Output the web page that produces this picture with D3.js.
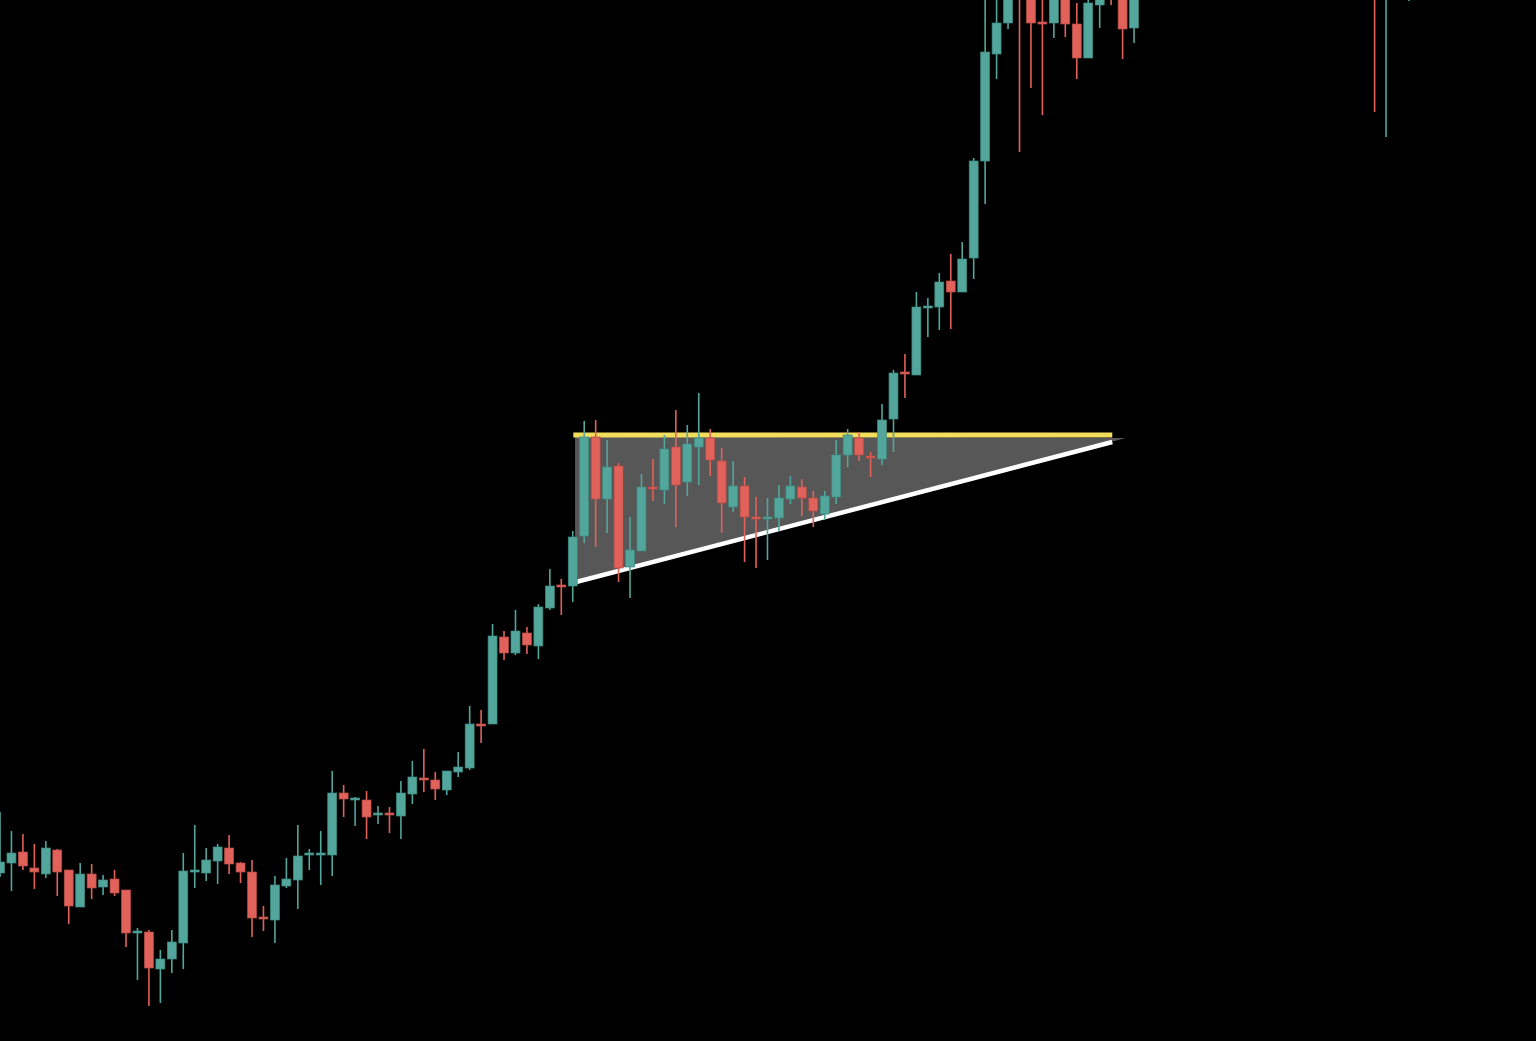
<!DOCTYPE html>
<html>
<head>
<meta charset="utf-8">
<script src="https://cdn.jsdelivr.net/npm/d3@7"></script>
<style>
html,body{margin:0;padding:0;background:#000;overflow:hidden;}
svg{display:block;}
</style>
</head>
<body>
<script>
// ---- Data (candle index -> OHLC), null = off the visible price window ----
const opens = [22.7,23.7,24.8,23.2,22.6,25.0,23.0,19.3,22.6,21.3,22.1,21.0,16.8,16.8,13.1,14.1,15.7,22.9,22.7,23.9,
25.2,23.7,22.8,18.3,18.0,21.4,22.0,24.6,24.6,24.5,30.7,30.1,30.0,28.6,28.7,28.4,30.6,32.2,32.0,31.0,
32.8,33.2,37.6,37.6,46.3,44.7,46.7,45.4,49.2,51.5,51.4,56.4,66.3,60.1,63.4,53.3,54.9,61.3,61.0,65.3,
61.8,65.3,66.2,63.9,59.3,61.4,58.3,58.1,58.2,60.1,61.3,60.2,58.6,60.3,64.5,66.2,64.4,64.1,68.1,72.8,
72.5,79.2,79.3,81.9,80.8,84.2,93.9,104.6,107.7,114,113,107.8,107.7,112,107.6,104.2,109.5,115,112,107.2,
null,null,null,null,null,null,null,null,null,null,null,null,null,null,null,null,null,null,null,null,
118,113,null,112];
const highs = [28.8,26.9,26.6,25.6,25.9,25.1,23.0,23.7,23.6,22.5,23.0,21.0,17.2,17.0,15.0,17.0,24.7,27.5,25.2,25.6,
26.5,23.8,24.0,19.4,22.4,24.2,27.5,25.1,26.9,32.9,31.5,30.3,30.9,29.4,29.3,31.9,33.9,35.1,32.8,32.9,
34.8,39.4,39.0,47.6,46.9,49.0,47.3,49.6,53.1,52.1,56.9,67.9,68.0,66.0,63.7,58.3,62.6,64.1,66.5,69.0,
67.5,70.7,67.1,65.2,63.9,62.3,60.3,60.2,61.5,62.4,62.1,60.9,60.9,66.0,67.1,66.8,64.8,69.6,73.0,74.6,
80.8,80.2,82.7,84.6,85.8,94.2,112,111,114,115,114,111,113,113,109.7,111,113,116,113,113,
null,null,null,null,null,null,null,null,null,null,null,null,null,null,null,null,null,null,null,null,
119,120,null,117];
const lows = [22.3,20.9,23.0,21.1,22.2,20.4,17.6,19.3,20.1,20.5,20.4,15.3,12.0,9.4,9.7,12.7,13.1,21.2,21.9,21.6,
22.6,21.7,16.3,16.9,15.7,21.2,19.1,23.0,21.5,22.4,28.3,27.4,26.1,27.6,26.7,26.1,29.6,30.8,30.0,30.5,
32.3,33.0,35.7,37.6,44.0,44.5,44.6,44.1,49.0,48.5,49.8,55.7,55.3,56.7,51.8,50.2,54.9,59.9,59.6,57.3,
60.4,61.5,62.4,56.7,58.8,53.8,53.2,54.0,56.9,59.6,58.4,57.3,58.0,59.6,63.3,63.9,62.3,63.5,64.8,70.2,
72.5,76.3,77.0,77.1,80.8,82.1,89.6,102.1,107.1,94.8,101.2,98.5,106.2,106.3,102.1,104.2,107.2,109.5,104.1,105.7,
null,null,null,null,null,null,null,null,null,null,null,null,null,null,null,null,null,null,null,null,
98.8,96.3,null,109.9];
const closes = [23.8,24.7,23.4,22.8,25.2,22.8,19.4,22.6,21.2,22.0,20.7,16.7,16.9,13.2,14.1,15.8,22.9,23.0,24.0,25.3,
23.6,22.8,18.2,18.2,21.5,22.1,24.4,24.7,24.7,30.7,30.1,30.2,28.3,28.7,28.6,30.7,32.3,32.1,31.1,32.9,
33.3,37.6,37.5,46.4,44.7,46.9,45.5,49.3,51.4,51.4,56.3,66.3,60.1,63.3,53.2,55.0,61.3,61.1,65.1,61.5,
65.6,66.2,64.0,59.7,61.4,58.3,58.1,58.3,60.2,61.4,60.2,58.9,60.4,64.5,66.5,64.5,64.2,68.0,72.7,72.6,
79.3,79.4,81.8,80.8,84.1,93.9,104.8,107.7,112,111,107.7,107.6,112,107.6,104.2,109.7,112,112,107.1,112,
null,null,null,null,null,null,null,null,null,null,null,null,null,null,null,null,null,null,null,null,
113,118,null,116];

// ascending-triangle annotation, in (candle index, price)
const resistanceLine = [[50.05, 66.5], [97.1, 66.5]];
const supportLine = [[50.3, 51.8], [97.1, 65.8]];
const triangleFill = [[50.2, 66.3], [98.3, 66.2], [50.2, 51.9]];

// ---- Layout ----
const W = 1536, H = 1041;
const step = 11.455;
const x = d3.scaleLinear().domain([0, W / step]).range([0, W]);
const y = d3.scaleLinear().domain([5.9, 110]).range([H, 0]);

const svg = d3.select("body").append("svg").attr("width", W).attr("height", H)
  .style("background", "#000");

const candles = opens.map((o, i) => ({i, o, h: highs[i], l: lows[i], c: closes[i]}))
  .filter(d => d.o !== null);

// triangle fill
svg.append("path")
  .attr("d", d3.line().x(d => x(d[0])).y(d => y(d[1]))(triangleFill) + "Z")
  .attr("fill", "#575757");

// resistance (yellow)
svg.append("path")
  .attr("d", d3.line().x(d => x(d[0])).y(d => y(d[1]))(resistanceLine))
  .attr("stroke", "#f2dd5c").attr("stroke-width", 5).attr("fill", "none");

// support (white)
svg.append("path")
  .attr("d", d3.line().x(d => x(d[0])).y(d => y(d[1]))(supportLine))
  .attr("stroke", "#ffffff").attr("stroke-width", 4.5).attr("fill", "none");

const UP = "#52a69b", DOWN = "#e0625b";
const UPB = "#3f8a80", DOWNB = "#b84c46";
const bw = step * 0.78;

const g = svg.append("g");
g.selectAll("line.wick").data(candles).join("line")
  .attr("class", "wick")
  .attr("x1", d => x(d.i)).attr("x2", d => x(d.i))
  .attr("y1", d => y(d.h)).attr("y2", d => y(d.l))
  .attr("stroke", d => d.c >= d.o ? UP : DOWN)
  .attr("stroke-width", 1.6);

g.selectAll("rect.body").data(candles).join("rect")
  .attr("class", "body")
  .attr("x", d => x(d.i) - bw / 2)
  .attr("width", bw)
  .attr("y", d => y(Math.max(d.o, d.c)))
  .attr("height", d => Math.max(2, Math.abs(y(d.o) - y(d.c))))
  .attr("fill", d => d.c >= d.o ? UP : DOWN)
  .attr("stroke", d => d.c >= d.o ? UPB : DOWNB)
  .attr("stroke-width", 0.7);
</script>
</body>
</html>
